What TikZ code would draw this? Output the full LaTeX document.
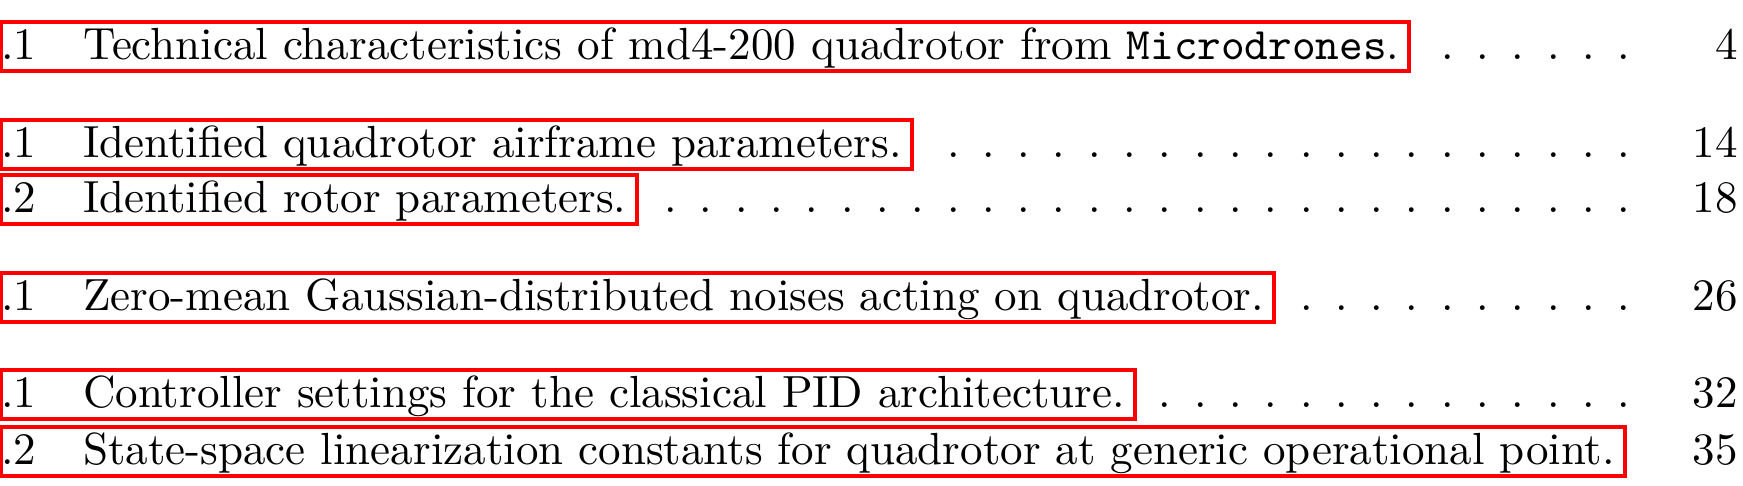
\documentclass[tikz,border=0pt]{standalone}
\usepackage{fontspec}
\setmainfont{lmroman10-regular.otf}
\setmonofont{lmmono10-regular.otf}
\begin{document}
\begin{tikzpicture}[x=1pt,y=1pt,
  txt/.style={inner sep=0pt,anchor=base west,font=\fontsize{45}{54}\selectfont},
  pg/.style={inner sep=0pt,anchor=base east,font=\fontsize{45}{54}\selectfont},
  redbox/.style={draw=red,line width=4pt},
  dotn/.style={inner sep=0pt,anchor=base,font=\fontsize{45}{54}\selectfont}]
\useasboundingbox (0,0) rectangle (1743,-485);
\foreach \nm/\b/\num/\title/\page in {
  a/59/.1/{Technical characteristics of md4-200 quadrotor from \texttt{Microdrones}.}/4,
  b/157/.1/{Identified quadrotor airframe parameters.}/14,
  c/212/.2/{Identified rotor parameters.}/18,
  d/310/.1/{Zero-mean Gaussian-distributed noises acting on quadrotor.}/26,
  e/407/.1/{Controller settings for the classical PID architecture.}/32,
  f/464/.2/{State-space linearization constants for quadrotor at generic operational point.}/35}{
  \node[txt] (n\nm) at (1,-\b) {\num};
  \node[txt] (t\nm) at (83,-\b) {\title};
  \node[pg] (p\nm) at (1738,-\b) {\page};
  \draw[redbox] (1,-\b+37) rectangle ([xshift=10pt,yshift=-12pt]t\nm.base east);
  \path ([xshift=10pt]t\nm.base east); \pgfgetlastxy{\bx}{\by}
  \foreach \k in {0,...,46}{
    \pgfmathsetmacro\xx{1624-35.3*\k}
    \ifdim\xx pt>\dimexpr\bx+22pt\relax
      \node[dotn] at (\xx,-\b) {.};
    \fi}
}
\end{tikzpicture}
\end{document}
